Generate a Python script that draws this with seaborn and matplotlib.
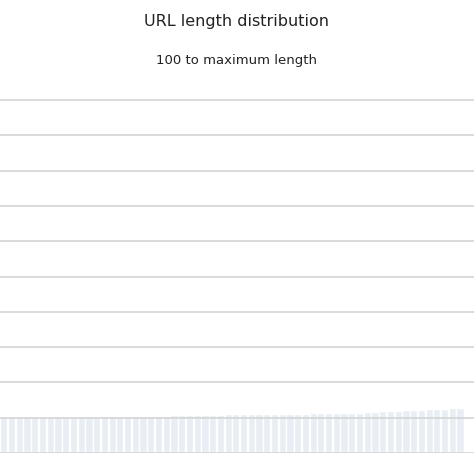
import matplotlib
matplotlib.use("Agg")
import matplotlib.pyplot as plt
import seaborn as sns
import pandas as pd

lengths = list(range(100, 160))
counts = [10.3, 10.2, 10.3, 10.2, 10.3, 10.2, 10.3, 10.3, 10.2, 10.3,
          10.3, 10.4, 10.3, 10.4, 10.4, 10.5, 10.4, 10.5, 10.5, 10.6,
          10.6, 10.6, 10.7, 10.7, 10.8, 10.8, 10.9, 10.9, 10.9, 11.0,
          11.0, 11.0, 11.1, 11.1, 11.1, 11.0, 11.1, 11.2, 11.2, 11.2,
          11.3, 11.3, 11.3, 11.4, 11.4, 11.5, 11.5, 11.6, 11.7, 11.8,
          11.9, 12.0, 12.1, 12.2, 12.3, 12.4, 12.5, 12.6, 12.7, 12.8]

df = pd.DataFrame({"length": lengths, "count": counts})

sns.set_theme(style="white")
fig = plt.figure(figsize=(4.74, 4.74), dpi=100)
ax = fig.add_axes([0.0, 0.044, 1.0, 0.749])
sns.barplot(data=df, x="length", y="count", color="#e8eef4", saturation=1,
            width=0.93, ax=ax, zorder=1)
ax.set_ylim(0, 100.5)
ax.set_xlim(-0.5, len(lengths) - 0.5 + 1.3)
ax.set_yticks(range(0, 101, 10))
ax.yaxis.grid(True, color="#d4d4d4", linewidth=1.2, zorder=2)
ax.set_axisbelow(False)
ax.set_xticks([]); ax.set_yticklabels([])
ax.set_xlabel(""); ax.set_ylabel("")
for s in ax.spines.values():
    s.set_visible(False)
fig.text(0.5, 0.955, "URL length distribution", ha="center", va="center", fontsize=11.5, color="#222222")
fig.text(0.5, 0.873, "100 to maximum length", ha="center", va="center", fontsize=9.5, color="#222222")
fig.savefig("out.png", dpi=100)
